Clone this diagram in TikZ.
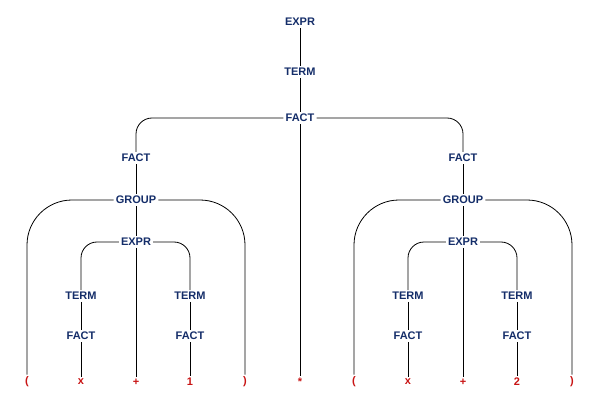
\documentclass[tikz,border=0pt]{standalone}
\usepackage{fontspec}
\setmainfont{Liberation Sans}
\usetikzlibrary{positioning}
\definecolor{ntblue}{RGB}{20,45,105}
\definecolor{tred}{RGB}{200,20,20}
\tikzset{
  nt/.style={font=\bfseries\fontsize{11}{13}\selectfont, text=ntblue, fill=white, inner sep=2pt},
  tok/.style={font=\bfseries\fontsize{11}{13}\selectfont, text=tred, inner sep=2pt},
  br/.style={thick, rounded corners=16pt},
}
\begin{document}
\begin{tikzpicture}[x=1pt,y=-1pt]
                \useasboundingbox (0,0) rectangle (600,409);
                % top spine
                \node[nt] (E0) at (300,22) {EXPR};
                \node[nt] (T0) at (300,72) {TERM};
                \node[nt] (F0) at (300,118) {FACT};
                \node[tok] (mul) at (300,382) {*};
                \draw[thick] (E0) -- (T0);
                \draw[thick] (T0) -- (F0);
                \draw[thick] (F0) -- (mul);
                % two groups
                \foreach \s/\dx/\d in {L/0/1,R/327/2}{
                  \node[nt] (F\s) at (136+\dx,158) {FACT};
                  \node[nt] (G\s) at (136+\dx,200) {GROUP};
                  \node[nt] (E\s) at (136+\dx,242) {EXPR};
                  \node[nt] (TA\s) at (81+\dx,296) {TERM};
                  \node[nt] (FA\s) at (81+\dx,336) {FACT};
                  \node[nt] (TB\s) at (190+\dx,296) {TERM};
                  \node[nt] (FB\s) at (190+\dx,336) {FACT};
                  \node[tok] (lp\s) at (27+\dx,382) {(};
                  \node[tok] (x\s) at (81+\dx,382) {x};
                  \node[tok] (pl\s) at (136+\dx,382) {+};
                  \node[tok] (n\s) at (190+\dx,382) {\d};
                  \node[tok] (rp\s) at (245+\dx,382) {)};
                  \draw[thick] (F\s) -- (G\s);
                  \draw[thick] (G\s) -- (E\s);
                  \draw[thick] (E\s) -- (pl\s);
                  \draw[thick] (TA\s) -- (FA\s);
                  \draw[thick] (FA\s) -- (x\s);
                  \draw[thick] (TB\s) -- (FB\s);
                  \draw[thick] (FB\s) -- (n\s);
                  \draw[br] (E\s.west) -| (TA\s.north);
                  \draw[br] (E\s.east) -| (TB\s.north);
                  \draw[br, rounded corners=45pt] (G\s.west) -| (lp\s.north);
                  \draw[br, rounded corners=45pt] (G\s.east) -| (rp\s.north);
                }
                \draw[br] (F0.west) -| (FL.north);
                \draw[br] (F0.east) -| (FR.north);
            \end{tikzpicture}
\end{document}
